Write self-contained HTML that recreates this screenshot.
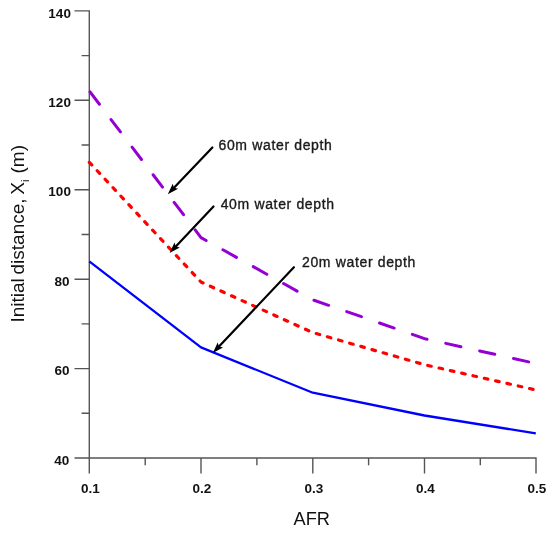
<!DOCTYPE html>
<html>
<head>
<meta charset="utf-8">
<style>
html,body{margin:0;padding:0;background:#fff;}
body{width:550px;height:533px;overflow:hidden;}
svg{display:block;}
.tl{font-family:"Liberation Sans",Arial,sans-serif;font-weight:bold;font-size:13.5px;fill:#111;}
.ann{font-family:"Liberation Sans",Arial,sans-serif;font-size:14px;letter-spacing:0.65px;fill:#1a1a1a;stroke:#1a1a1a;stroke-width:0.35px;}
.ttl{font-family:"Liberation Sans",Arial,sans-serif;font-size:18px;fill:#111;}
</style>
</head>
<body>
<svg width="550" height="533" viewBox="0 0 550 533">
<rect width="550" height="533" fill="#fff"/>
<!-- axes -->
<g stroke="#555" stroke-width="1.4" fill="none" stroke-linecap="butt">
<path d="M74.5 10.9H89.3V458H536V473.5"/>
<!-- y major ticks -->
<path d="M74.5 100.3H89.3M74.5 189.7H89.3M74.5 279.2H89.3M74.5 368.6H89.3M74.5 458H89.3"/>
<!-- y minor ticks -->
<path d="M81.6 55.6H89.3M81.6 145H89.3M81.6 234.5H89.3M81.6 323.9H89.3M81.6 413.3H89.3"/>
<!-- x major ticks -->
<path d="M89.3 458V473.5M201 458V473.5M312.8 458V473.5M424.5 458V473.5"/>
<!-- x minor ticks -->
<path d="M145.2 458V465.3M256.9 458V465.3M368.6 458V465.3M480.3 458V465.3"/>
</g>
<!-- y tick labels -->
<g class="tl" text-anchor="end">
<text x="70.9" y="17.6">140</text>
<text x="70.9" y="107">120</text>
<text x="70.9" y="196.4">100</text>
<text x="69.6" y="285.9">80</text>
<text x="69.6" y="375.4">60</text>
<text x="69.4" y="464.8">40</text>
</g>
<!-- x tick labels -->
<g class="tl" text-anchor="middle">
<text x="90.3" y="492.5">0.1</text>
<text x="202" y="492.5">0.2</text>
<text x="313.8" y="492.5">0.3</text>
<text x="425.5" y="492.5">0.4</text>
<text x="537" y="492.5">0.5</text>
</g>
<!-- axis titles -->
<text class="ttl" x="311.7" y="525.3" text-anchor="middle" style="font-size:18.2px">AFR</text>
<text class="ttl" style="font-size:19px" transform="translate(24.3 322.6) rotate(-90)">Initial<tspan dx="-1.5"> distance,</tspan><tspan dx="-1.5"> X</tspan><tspan style="font-size:11.5px" dy="4.6">i</tspan><tspan dy="-4.6" dx="0.6"> (m)</tspan></text>
<!-- data lines -->
<polyline fill="none" stroke="#0000ff" stroke-width="2.3" stroke-linejoin="round" points="89.3,261.4 201,347.4 312.8,392.7 424.5,415.5 535.8,433.4"/>
<polyline fill="none" stroke="#ff0000" stroke-width="3.2" stroke-linecap="round" stroke-linejoin="round" stroke-dasharray="3.6 8" points="89.3,162.3 201,282 312.8,332.6 424.5,364.7 536,390"/>
<polyline fill="none" stroke="#9400d3" stroke-width="3" stroke-linecap="round" stroke-linejoin="round" stroke-dasharray="15.5 19.2" stroke-dashoffset="-1.2" points="89.3,91 201,237.6 312.8,299.8 424.5,338.6 536,363.5"/>
<!-- arrows -->
<g stroke="#000" stroke-width="2.2" fill="none" stroke-linecap="round">
<line x1="212.4" y1="147.5" x2="174.0" y2="187.7"/>
<line x1="213.5" y1="206.5" x2="175.8" y2="246.5"/>
<line x1="293.9" y1="267.2" x2="219.0" y2="346.6"/>
</g>
<g fill="#000">
<polygon points="167.8,194.2 178.1,188.8 174.0,187.7 172.7,183.7"/>
<polygon points="169.6,253.0 179.8,247.5 175.8,246.5 174.5,242.5"/>
<polygon points="212.8,353.1 223.0,347.6 219.0,346.6 217.7,342.6"/>
</g>
<!-- annotations -->
<text class="ann" x="218.5" y="149.8">60m water depth</text>
<text class="ann" x="220.7" y="209">40m water depth</text>
<text class="ann" x="302" y="266.6">20m water depth</text>
</svg>
</body>
</html>
